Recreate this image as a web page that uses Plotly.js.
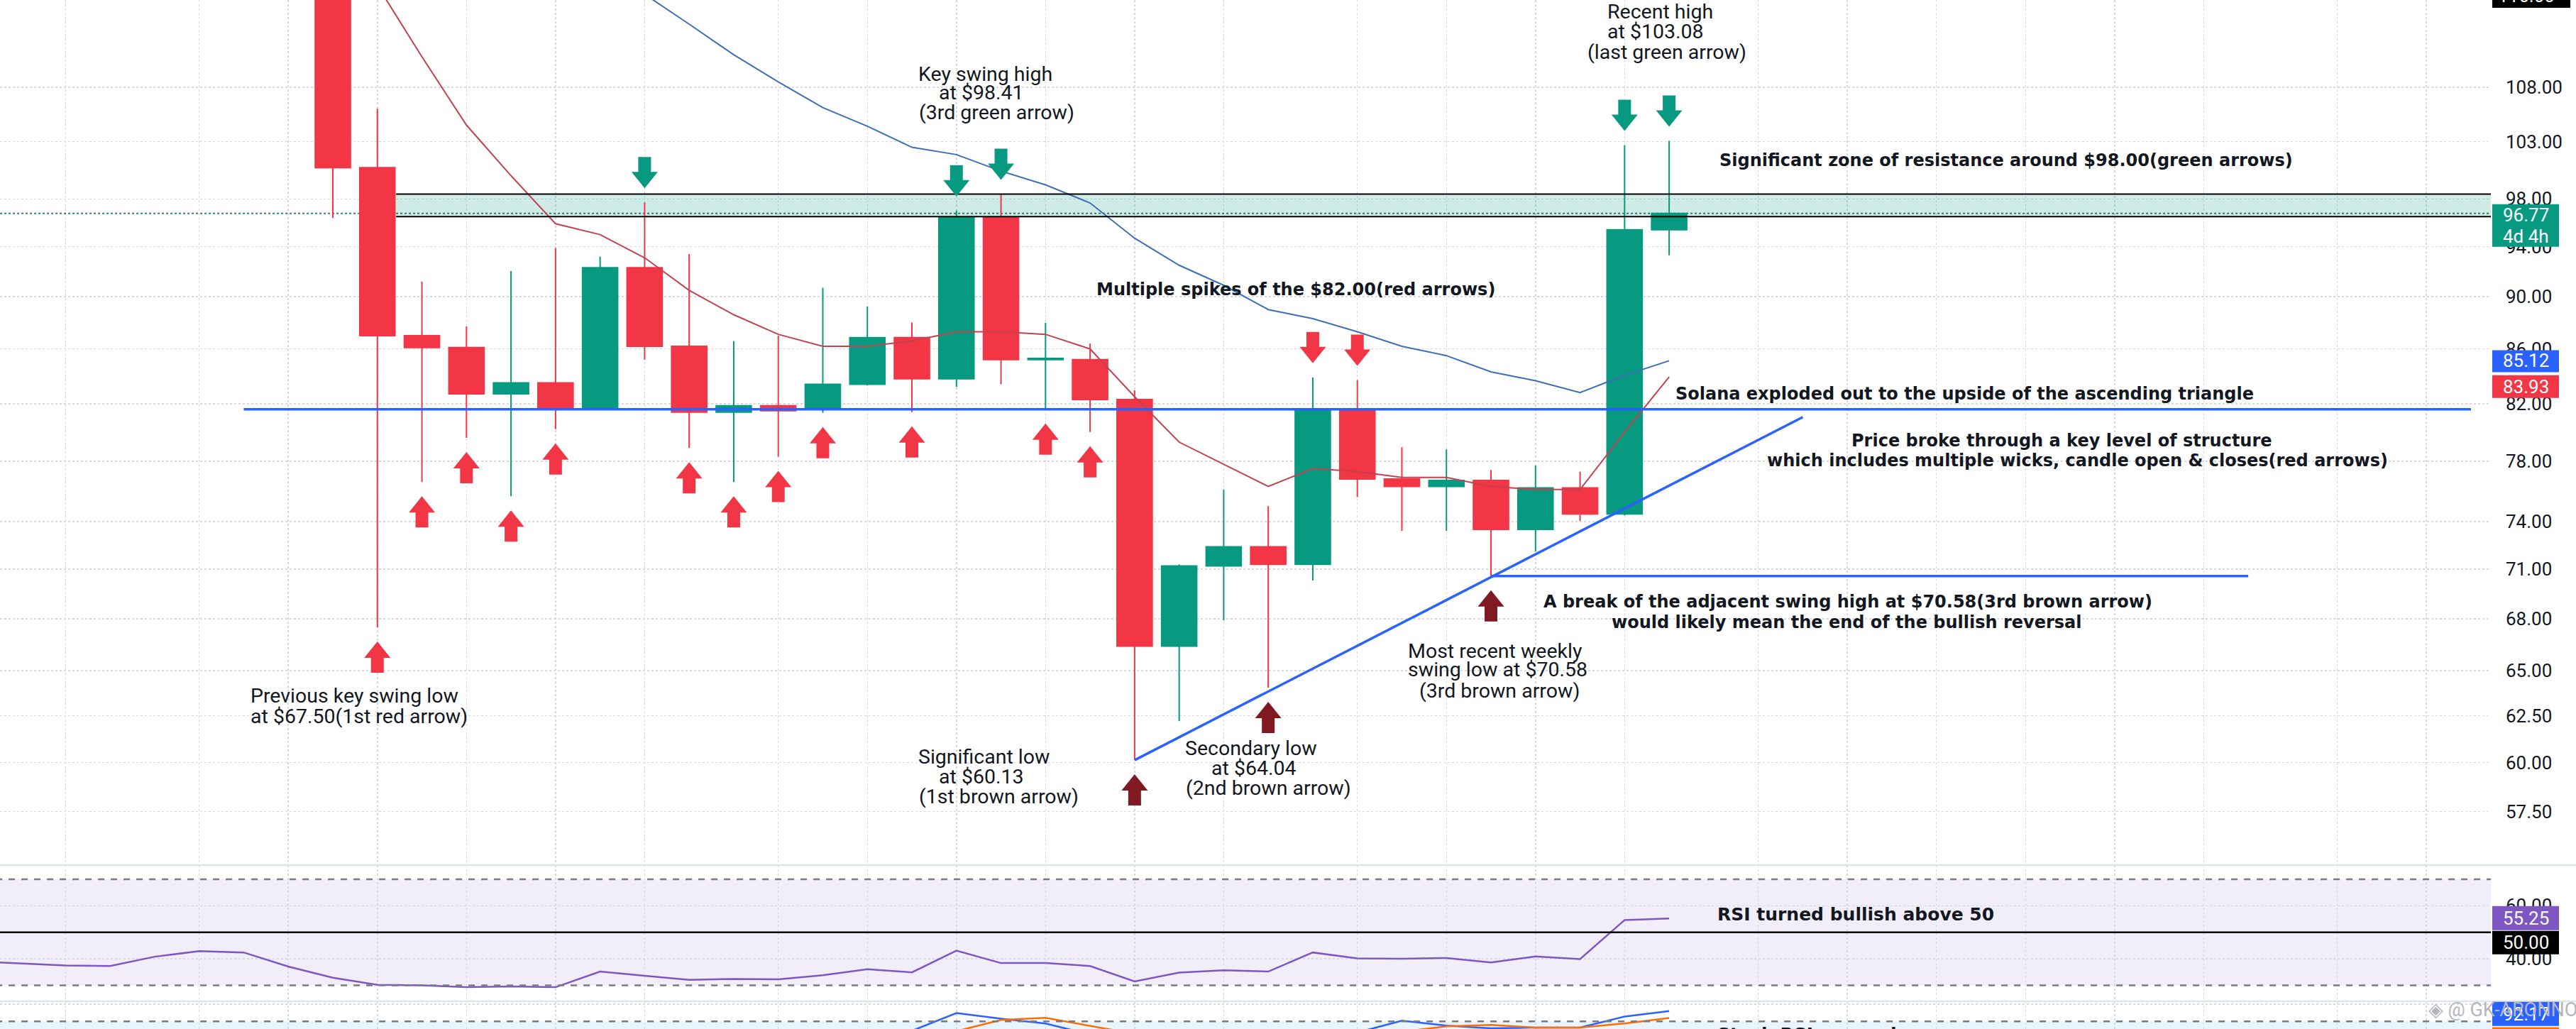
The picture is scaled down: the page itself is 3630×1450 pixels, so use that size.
<!DOCTYPE html>
<html><head><meta charset="utf-8">
<script src="https://cdn.plot.ly/plotly-3.0.1.min.js"></script>
<style>html,body{margin:0;padding:0;background:#fff;overflow:hidden}#chart{width:3630px;height:1450px}</style>
</head><body><div id="chart"></div>
<script>
const W = 3630, H = 1450;
const GREEN = '#089981', RED = '#f23645', BROWN = '#801922', BLUE = '#2962ff';

// ---------- data (weekly candles, index 0 = first visible candle) ----------
const candleIdx = [0,1,2,3,4,5,6,7,8,9,10,11,12,13,14,15,16,17,18,19,20,21,22,23,24,25,26,27,28,29,30];
const openP  = [122.0,100.7,87.0,86.1,82.7,83.5,81.6,92.3,86.2,81.4,81.85,81.6,83.4,86.85,83.8,96.4,85.2,85.2,82.3,66.4,71.2,72.4,71.3,81.6,76.8,76.3,76.7,73.5,76.2,74.5,95.4];
const highP  = [124.0,106.0,91.2,87.7,92.05,93.9,93.2,97.7,93.4,86.6,87.0,90.7,89.25,88.0,97.0,98.41,87.97,86.4,82.96,71.3,76.1,75.0,83.9,83.7,78.95,78.8,77.4,77.7,77.3,102.7,103.08];
const lowP   = [96.4,67.5,76.6,79.6,75.65,80.2,81.6,85.2,78.9,76.6,78.3,81.35,83.3,81.4,83.2,83.4,81.6,80.0,60.13,62.2,67.9,64.04,70.3,75.6,73.4,73.4,70.58,72.1,74.05,74.4,93.3];
const closeP = [100.7,87.0,86.1,82.7,83.5,81.6,92.3,86.2,81.4,81.85,81.5,83.4,86.85,83.8,96.4,85.2,85.3,82.3,66.4,71.2,72.4,71.3,81.6,76.8,76.3,76.7,73.5,76.2,74.5,95.4,96.77];

const fastMaIdx = [1,2,3,4,5,6,7,8,9,10,11,12,13,14,15,16,17,18,19,20,21,22,23,24,25,26,27,28,29,30];
const fastMa    = [118,110.9,104.5,100.0,95.9,95.0,93.1,90.5,88.6,87.1,86.2,86.2,86.6,87.3,87.3,87.1,86.0,82.5,79.3,77.8,76.3,77.5,77.3,76.9,76.9,76.3,76.1,76.1,80.0,83.93];
const slowMaIdx = [7,8,9,10,11,12,13,14,15,16,17,18,19,20,21,22,23,24,25,26,27,28,29,30];
const slowMa    = [117.1,114.1,111.1,108.5,106.1,104.4,102.5,101.85,100.4,99.2,97.65,94.7,92.5,90.9,89.0,88.3,87.3,86.2,85.5,84.3,83.65,82.8,84.05,85.12];

const rsiIdx = [-8,-7,-6,-5,-4,-3,-2,-1,0,1,2,3,4,5,6,7,8,9,10,11,12,13,14,15,16,17,18,19,20,21,22,23,24,25,26,27,28,29,30];
const rsiVal = [39.0,38.2,37.5,37.3,40.8,42.9,42.4,37.1,32.9,30.2,30.0,29.3,29.6,29.3,35.2,33.6,32.1,32.4,32.3,33.8,36.1,34.9,43.1,38.4,38.4,37.3,31.5,34.8,35.7,35.2,42.4,40.2,40.0,40.3,38.6,40.9,39.9,54.6,55.25];

const stochK = [null,null,null,null,null,null,null,null,null,null,null,null,null,69.0,89.7,83.2,77.6,64.6,null,null,null,null,null,67.0,80.8,75.1,71.9,72.7,72.7,85.7,92.17];
const stochD = [null,null,null,null,null,null,null,null,null,null,null,null,null,null,68.6,81.6,84.1,74.8,65.4,null,null,null,null,null,67.8,74.3,75.9,72.7,72.7,77.6,84.06];

// annotation arrows (candle index)
const redUpArrows    = [1,2,3,4,5,8,9,10,11,13,16,17];
const brownUpArrows  = [18,21,26];
const greenDownArrows= [7,14,15,29,30];
const redDownArrows  = [22,23];

// levels
const resistanceLow = 96.5, resistanceHigh = 98.41, resistanceStart = 1.42;
const triangleTop = 81.6, triangleTopStart = -2, triangleTopEnd = 48;
const triangleBase = {i0: 18, p0: 60.13, i1: 33, p1: 81.05};
const swingLevel = 70.58, swingStart = 26, swingEnd = 43;
const lastPrice = 96.77;

const priceTicks = [57.5,60,62.5,65,68,71,74,78,82,86,90,94,98,103,108];
const gridIdx = [-6,-3,-1,1,3,5,7,10,12,14,16,18,20,23,25,27,29,32,34,36,38,40,42,45,47];

// ---------- layout helpers ----------
const px = x => x / W;
const py = y => 1 - y / H;
const XR = [-7.472, 48.447];
const XD = [0, 3510 / W];
const GRID = '#d6d9e0';
const TXT = '#131722';

function xAxis(anchor) {
  return {domain: XD, range: XR, anchor: anchor, tickvals: gridIdx, showticklabels: false, ticks: '',
    showgrid: true, gridcolor: GRID, griddash: 'dot', gridwidth: 1.5, zeroline: false, showline: false, fixedrange: true};
}
const tickFont = {family: 'Roboto, sans-serif', size: 26, color: TXT};

const traces = [
  {type: 'candlestick', x: candleIdx, open: openP, high: highP, low: lowP, close: closeP,
   increasing: {line: {color: GREEN, width: 2}, fillcolor: GREEN},
   decreasing: {line: {color: RED, width: 2}, fillcolor: RED},
   whiskerwidth: 0, hoverinfo: 'skip', showlegend: false, xaxis: 'x', yaxis: 'y'},
  {type: 'scatter', mode: 'lines', x: fastMaIdx, y: fastMa, line: {color: '#c4424f', width: 2},
   hoverinfo: 'skip', showlegend: false, xaxis: 'x', yaxis: 'y'},
  {type: 'scatter', mode: 'lines', x: slowMaIdx, y: slowMa, line: {color: '#3e6eb8', width: 2},
   hoverinfo: 'skip', showlegend: false, xaxis: 'x', yaxis: 'y'},
  {type: 'scatter', mode: 'lines', x: rsiIdx, y: rsiVal, line: {color: '#7e57c2', width: 2.5},
   hoverinfo: 'skip', showlegend: false, xaxis: 'x2', yaxis: 'y2'},
  {type: 'scatter', mode: 'lines', x: candleIdx, y: stochK, line: {color: BLUE, width: 2.5}, connectgaps: false,
   hoverinfo: 'skip', showlegend: false, xaxis: 'x3', yaxis: 'y3'},
  {type: 'scatter', mode: 'lines', x: candleIdx, y: stochD, line: {color: '#ff6d00', width: 2.5}, connectgaps: false,
   hoverinfo: 'skip', showlegend: false, xaxis: 'x3', yaxis: 'y3'}
];

// ---------- shapes ----------
const shapes = [];
shapes.push({type: 'rect', xref: 'x', yref: 'y', x0: resistanceStart, x1: 50, y0: resistanceLow, y1: resistanceHigh,
  fillcolor: 'rgba(8,153,129,0.2)', line: {width: 0}, layer: 'between'});
shapes.push({type: 'line', xref: 'x', yref: 'y', x0: -9, x1: 50, y0: lastPrice, y1: lastPrice,
  line: {color: 'rgba(20,100,90,0.85)', width: 2, dash: 'dot'}, layer: 'between'});
[resistanceLow, resistanceHigh].forEach(v => shapes.push({type: 'line', xref: 'x', yref: 'y', x0: resistanceStart, x1: 50,
  y0: v, y1: v, line: {color: '#000', width: 2}}));
shapes.push({type: 'line', xref: 'x', yref: 'y', x0: triangleTopStart, x1: triangleTopEnd, y0: triangleTop, y1: triangleTop,
  line: {color: BLUE, width: 3.5}});
shapes.push({type: 'line', xref: 'x', yref: 'y', x0: triangleBase.i0, x1: triangleBase.i1, y0: triangleBase.p0, y1: triangleBase.p1,
  line: {color: BLUE, width: 3.5}});
shapes.push({type: 'line', xref: 'x', yref: 'y', x0: swingStart, x1: swingEnd, y0: swingLevel, y1: swingLevel,
  line: {color: BLUE, width: 3.5}});

function upPath(gap) {
  const t = -gap, hb = t - 23, b = t - 44;
  return `M0,${t}L18.5,${hb}L9,${hb}L9,${b}L-9,${b}L-9,${hb}L-18.5,${hb}Z`;
}
function downPath(gap) {
  const t = gap, hb = t + 23, b = t + 44;
  return `M0,${t}L18.5,${hb}L9,${hb}L9,${b}L-9,${b}L-9,${hb}L-18.5,${hb}Z`;
}
function arrow(i, price, up, color) {
  return {type: 'path', xref: 'x', yref: 'y', xsizemode: 'pixel', ysizemode: 'pixel', xanchor: i, yanchor: price,
    path: up ? upPath(20) : downPath(20), fillcolor: color, line: {width: 0}};
}
redUpArrows.forEach(i => shapes.push(arrow(i, lowP[i], true, RED)));
brownUpArrows.forEach(i => shapes.push(arrow(i, lowP[i], true, BROWN)));
greenDownArrows.forEach(i => shapes.push(arrow(i, highP[i], false, GREEN)));
redDownArrows.forEach(i => shapes.push(arrow(i, highP[i], false, RED)));

// RSI pane
shapes.push({type: 'rect', xref: 'x2', yref: 'y2', x0: -9, x1: 50, y0: 30, y1: 70, fillcolor: 'rgba(126,87,194,0.1)', line: {width: 0}, layer: 'below'});
[30, 70].forEach(v => shapes.push({type: 'line', xref: 'x2', yref: 'y2', x0: -9, x1: 50, y0: v, y1: v,
  line: {color: '#787b86', width: 2.5, dash: 'dash'}}));
shapes.push({type: 'line', xref: 'x2', yref: 'y2', x0: -9, x1: 50, y0: 50, y1: 50, line: {color: '#000', width: 2.5}});
// Stoch pane
shapes.push({type: 'rect', xref: 'x3', yref: 'y3', x0: -9, x1: 50, y0: 20, y1: 80, fillcolor: 'rgba(33,150,243,0.1)', line: {width: 0}, layer: 'below'});
shapes.push({type: 'line', xref: 'x3', yref: 'y3', x0: -9, x1: 50, y0: 80, y1: 80, line: {color: '#787b86', width: 2.5, dash: 'dash'}});
// pane separators
[1219, 1411].forEach(y => shapes.push({type: 'line', xref: 'paper', yref: 'paper', x0: 0, x1: 1, y0: py(y), y1: py(y),
  line: {color: '#e0e3eb', width: 2.5}}));

// price label boxes (pixel-sized paths anchored at the value)
function labelBox(yref, value, top, bottom, color) {
  shapes.push({type: 'path', xref: 'paper', yref: yref, xsizemode: 'pixel', ysizemode: 'pixel',
    xanchor: px(3512), yanchor: value,
    path: `M0,${top}L94,${top}L94,${bottom}L0,${bottom}Z`, fillcolor: color, line: {width: 0}});
}
labelBox('y', lastPrice, 13, -47, GREEN);
labelBox('y', slowMa[slowMa.length - 1], 15, -16, BLUE);
labelBox('y', fastMa[fastMa.length - 1], 2.5, -29.5, RED);
labelBox('y2', rsiVal[rsiVal.length - 1], 17.4, -16.6, '#7e57c2');
labelBox('y2', 50, 2, -31, '#000');
labelBox('y3', stochK[30], 13, -21, BLUE);
labelBox('y3', stochD[30], -13, -47, '#ff6d00');
shapes.push({type: 'rect', xref: 'paper', yref: 'paper', x0: px(3512), x1: px(3622), y0: py(11), y1: 1, fillcolor: '#000', line: {width: 0}});

// ---------- annotations ----------
const annotations = [];
const regFont = {family: 'Roboto, sans-serif', size: 28.5, color: TXT};
const boldFont = {family: 'DejaVu Sans, sans-serif', size: 24, color: TXT, weight: 700};
const boldFontLg = {family: 'DejaVu Sans, sans-serif', size: 25, color: TXT, weight: 700};
function note(text, x, y, font, anchor) {
  annotations.push({xref: 'paper', yref: 'paper', x: px(x), y: py(y), xanchor: anchor || 'left', yanchor: 'middle',
    text: text, showarrow: false, font: font});
}
note('Previous key swing low', 351, 980, regFont);
note('at $67.50(1st red arrow)', 351, 1009, regFont);
note('Key swing high', 1292, 104, regFont);
note('at $98.41', 1321, 131, regFont);
note('(3rd green arrow)', 1293, 159, regFont);
note('Significant low', 1292, 1066, regFont);
note('at $60.13', 1321, 1094, regFont);
note('(1st brown arrow)', 1293, 1122, regFont);
note('Secondary low', 1668, 1054, regFont);
note('at $64.04', 1705, 1082, regFont);
note('(2nd brown arrow)', 1669, 1110, regFont);
note('Most recent weekly', 1982, 917, regFont);
note('swing low at $70.58', 1982, 944, regFont);
note('(3rd brown arrow)', 1998, 973, regFont);
note('Recent high', 2263, 17, regFont);
note('at $103.08', 2263, 45, regFont);
note('(last green arrow)', 2235, 74, regFont);

note('Significant zone of resistance around $98.00(green arrows)', 2421, 226, boldFont);
note('Multiple spikes of the $82.00(red arrows)', 1543, 408, boldFont);
note('Solana exploded out to the upside of the ascending triangle', 2359, 555, boldFont);
note('Price broke through a key level of structure', 2905, 621, boldFont, 'center');
note('which includes multiple wicks, candle open &amp; closes(red arrows)', 2927, 649, boldFont, 'center');
note('A break of the adjacent swing high at $70.58(3rd brown arrow)', 2604, 848, boldFont, 'center');
note('would likely mean the end of the bullish reversal', 2602, 877, boldFont, 'center');
note('RSI turned bullish above 50', 2418, 1288, boldFontLg);
note('Stoch RSI crossed up', 2418, 1457, boldFontLg);

const lblFont = {family: 'Roboto, sans-serif', size: 26, color: '#fff'};
function labelText(yref, yval, shift, text) {
  annotations.push({xref: 'paper', yref: yref, x: px(3559), y: yval, yshift: shift, xanchor: 'center', yanchor: 'middle',
    text: text, showarrow: false, font: lblFont});
}
labelText('y', Math.log10(lastPrice), -2, lastPrice.toFixed(2));
labelText('y', Math.log10(lastPrice), -32, '4d 4h');
labelText('y', Math.log10(slowMa[slowMa.length - 1]), 0, slowMa[slowMa.length - 1].toFixed(2));
labelText('y', Math.log10(fastMa[fastMa.length - 1]), -13.5, fastMa[fastMa.length - 1].toFixed(2));
labelText('y2', rsiVal[rsiVal.length - 1], 0, rsiVal[rsiVal.length - 1].toFixed(2));
labelText('y2', 50, -14.5, '50.00');
labelText('y3', stochK[30], -4, stochK[30].toFixed(2));
labelText('y3', stochD[30], -30, stochD[30].toFixed(2));
annotations.push({xref: 'paper', yref: 'paper', x: px(3560), y: py(-6), xanchor: 'center', yanchor: 'middle',
  text: '116.00', showarrow: false, font: lblFont});
annotations.push({xref: 'paper', yref: 'paper', x: px(3420), y: py(1423), xanchor: 'left', yanchor: 'middle',
  text: '\u25C8 @ GK-ARONNO', showarrow: false, font: {family: 'Roboto, DejaVu Sans, sans-serif', size: 27, color: '#b4b6bf'}});

const layout = {
  width: W, height: H, margin: {l: 0, r: 0, t: 0, b: 0}, paper_bgcolor: '#fff', plot_bgcolor: 'rgba(0,0,0,0)',
  showlegend: false, dragmode: false, hovermode: false,
  boxmode: 'overlay', boxgap: 0.21, boxgroupgap: 0,
  xaxis: Object.assign(xAxis('y'), {rangeslider: {visible: false}}),
  xaxis2: Object.assign(xAxis('y2'), {matches: 'x'}),
  xaxis3: Object.assign(xAxis('y3'), {matches: 'x'}),
  yaxis: {domain: [py(1219), 1], type: 'log', range: [Math.log10(54.88), Math.log10(116.52)], side: 'right', anchor: 'x',
    tickvals: priceTicks, ticktext: priceTicks.map(v => v.toFixed(2)), ticks: '', ticklabelstandoff: 20,
    tickfont: tickFont, showgrid: true, gridcolor: GRID, griddash: 'dot', gridwidth: 1.5, zeroline: false, showline: false, fixedrange: true},
  yaxis2: {domain: [py(1411), py(1219)], range: [23.98, 75.35], side: 'right', anchor: 'x2',
    tickvals: [40, 60], ticktext: ['40.00', '60.00'], ticks: '', ticklabelstandoff: 20, tickfont: tickFont,
    showgrid: true, gridcolor: GRID, griddash: 'dot', gridwidth: 1.5, zeroline: false, showline: false, fixedrange: true},
  yaxis3: {domain: [0, py(1411)], range: [71.1, 103.5], side: 'right', anchor: 'x3',
    tickvals: [100], showticklabels: false, ticks: '',
    showgrid: true, gridcolor: GRID, griddash: 'dot', gridwidth: 1.5, zeroline: false, showline: false, fixedrange: true},
  shapes: shapes, annotations: annotations
};

Plotly.newPlot('chart', traces, layout, {staticPlot: true, displayModeBar: false});
</script></body></html>
